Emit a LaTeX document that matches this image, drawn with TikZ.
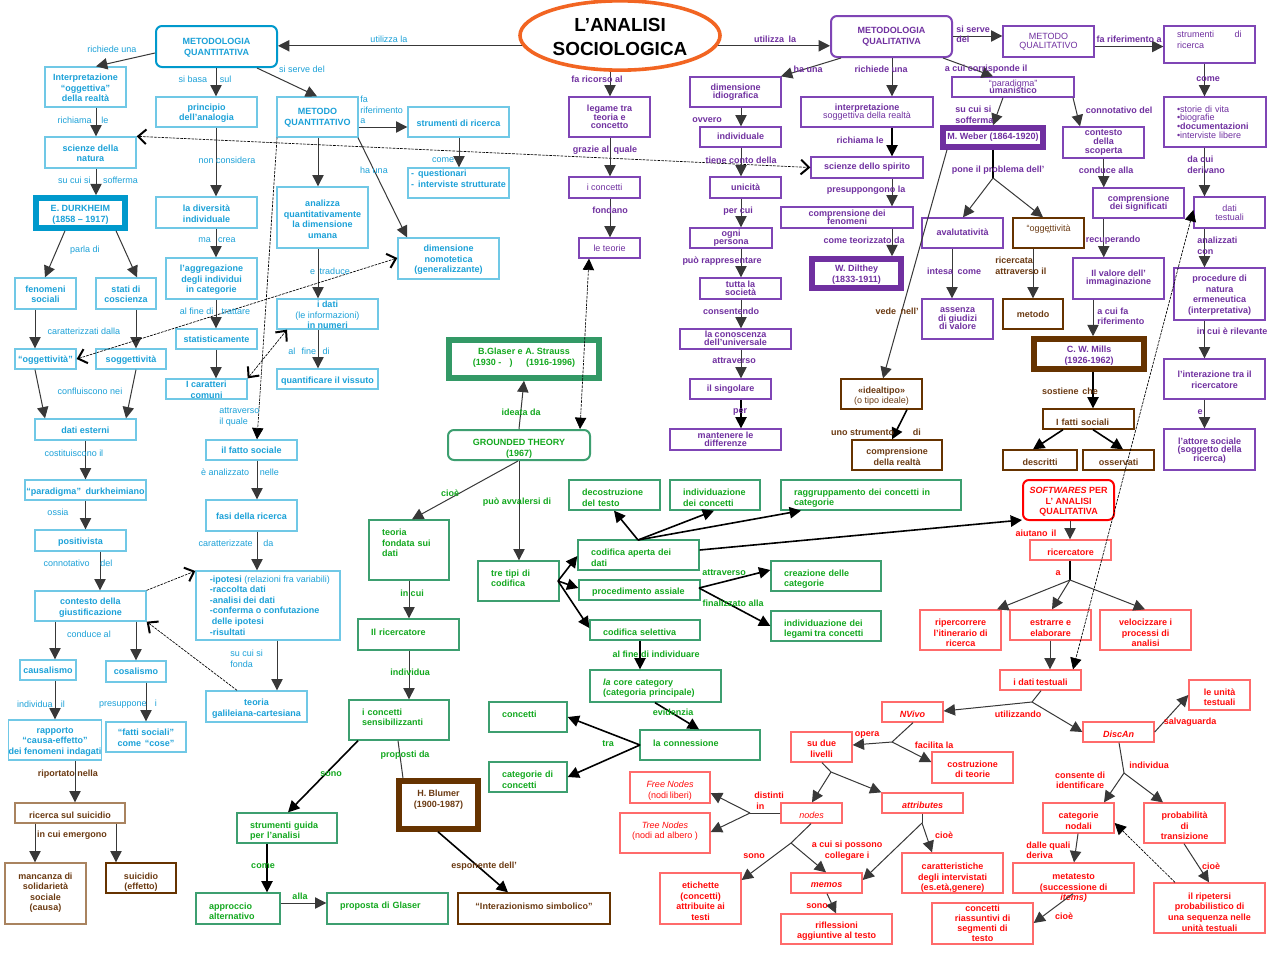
\documentclass[tikz,border=0pt]{standalone}
\usepackage{fontspec}
\setmainfont{Liberation Sans}
\usetikzlibrary{arrows.meta,shapes.geometric}
\definecolor{tB}{HTML}{1BA1D8}\definecolor{lB}{HTML}{70C8E6}\definecolor{dB}{HTML}{0099CC}
\definecolor{tG}{HTML}{12A81E}\definecolor{lG}{HTML}{3D9F70}\definecolor{dG}{HTML}{339966}
\definecolor{tP}{HTML}{7030A0}\definecolor{lP}{HTML}{7F45B5}
\definecolor{tN}{HTML}{6B3A12}\definecolor{lN}{HTML}{A9835F}\definecolor{dN}{HTML}{663300}
\definecolor{tR}{HTML}{FF0A0A}\definecolor{lR}{HTML}{FF6B6B}
\definecolor{lineC}{HTML}{383838}\definecolor{orangeT}{HTML}{F26522}
\newcounter{lkn}
\newcommand\fnt[1]{\fontsize{6.75}{#1}\selectfont\lineskiplimit=-10pt\relax}
\newcommand\bx[7]{\pgfmathsetmacro\bw{#4-#2}\pgfmathsetmacro\bh{#5-#3}\pgfmathsetmacro\bwl{(#4-#2-26)*0.75}%
 \node[bxs,#6,minimum width=\bw*0.75pt,minimum height=\bh*0.75pt] (#1) at ({(#2+#4)/2},{(#3+#5)/2}) {#7};}
\newcommand\lk[4]{\stepcounter{lkn}\node[lks,#1] (lk\arabic{lkn}) at (#2,#3) {#4};}
\newcommand\CS[5][ar]{\draw[#1] (#2.south -| #3,0) -- (#4.north -| #5,0);}
\newcommand\sh[2]{\raisebox{\dimexpr #1pt*3/4\relax}[\height][\depth]{#2}}
\newcommand\shc[2]{\sh{#1}{\vbox{\let\\\cr\halign{\hfil##\hfil\cr#2\crcr}}}}
\newcommand\shl[2]{\sh{#1}{\vbox{\let\\\cr\halign{##\hfil\cr#2\crcr}}}}
\newcommand\gp[1]{\hspace{#1em}}
\tikzset{
 bxs/.style={draw,inner sep=0pt,align=center,font=\fnt{7.9}\bfseries,line width=1pt},
 lks/.style={inner sep=0pt,align=center,font=\fnt{7.9}},
 tight/.style={font=\fnt{6.1}\bfseries},
 reg/.style={font=\fnt{7.9}},
 regt/.style={font=\fnt{6.1}},
 lt/.style={align=left,text width=\bwl pt},
 cB/.style={draw=lB,text=tB},cG/.style={draw=lG,text=tG},cP/.style={draw=lP,text=tP},
 cN/.style={draw=lN,text=tN},cND/.style={draw=dN,text=tN},cR/.style={draw=lR,text=tR},
 thick5/.style={line width=4.2pt},
 rnd/.style={rounded corners=4.5pt,line width=1.5pt},
 lB1/.style={text=tB},
 lG1/.style={text=tG,font=\fnt{7.9}\bfseries},
 lP1/.style={text=tP,font=\fnt{7.9}\bfseries},
 lN1/.style={text=tN,font=\fnt{7.9}\bfseries},
 lR1/.style={text=tR,font=\fnt{7.9}\bfseries},
 lf/.style={anchor=west,align=left},
 ar/.style={draw=lineC,line width=0.75pt,-{Triangle[length=8.5pt,width=8.5pt]}},
 art/.style={draw=black,line width=1.2pt,-{Triangle[length=8.5pt,width=8.5pt]}},
 ln/.style={draw=lineC,line width=0.75pt},
 lnt/.style={draw=black,line width=1.2pt},
 dsh/.style={draw=black,line width=0.5pt,dash pattern=on 2pt off 0.8pt},
 barb/.style={dsh,{Straight Barb[line width=1.5pt,length=6pt,width=11pt]}-{Straight Barb[line width=1.5pt,length=6pt,width=11pt]}},
 barbo/.style={dsh,-{Straight Barb[line width=1.5pt,length=6pt,width=11pt]}},
 dtr/.style={dsh,{Triangle[length=8.5pt,width=8.5pt]}-{Triangle[length=8.5pt,width=8.5pt]}},
 dto/.style={dsh,-{Triangle[length=8.5pt,width=8.5pt]}},
}
\begin{document}
\begin{tikzpicture}[x=0.75pt,y=-0.75pt]
\useasboundingbox (0,0) rectangle (1280,960);
\fill[white] (0,0) rectangle (1280,960);
% title
\node[ellipse,draw=orangeT,line width=2.7pt,inner sep=0pt,minimum width=150pt,minimum height=52pt,align=center,font=\fontsize{14.2}{18}\selectfont\bfseries] (title) at (620,35.5) {\shc{-1}{L’ANALISI\\SOCIOLOGICA}};
% blue boxes
\bx{mq}{156}{26}{277}{67}{cB,rnd,draw=dB}{\shc{-1}{METODOLOGIA\\QUANTITATIVA}}
\bx{interp}{45}{67}{126}{107}{cB}{\shc{-1}{Interpretazione\\“oggettiva”\\della realtà}}
\bx{prin}{156}{97}{257}{127}{cB}{\shc{-1}{principio\\dell’analogia}}
\bx{metq}{277}{97}{358}{137}{cB}{\shc{-1}{METODO\\QUANTITATIVO}}
\bx{scnat}{45}{137}{136}{168}{cB}{\shc{-1}{scienze della\\natura}}
\bx{durk}{36}{198}{125}{228}{cB,thick5,draw=dB}{\shc{-2}{E. DURKHEIM\\(1858 – 1917)}}
\bx{diver}{156}{197}{257}{228}{cB}{\shc{-1}{la diversità\\individuale}}
\bx{anal}{277}{187}{368}{248}{cB}{\shc{-2}{analizza\\quantitativamente\\la dimensione\\umana}}
\bx{aggr}{166}{258}{257}{299}{cB}{\shc{-1.5}{l’aggregazione\\degli individui\\in categorie}}
\bx{fen}{15}{278}{76}{309}{cB}{\shc{-1}{fenomeni\\sociali}}
\bx{stati}{96}{278}{156}{309}{cB}{\shc{-1}{stati di\\coscienza}}
\bx{idati}{277}{299}{378}{329}{cB}{\shc{-1}{i dati\\{\mdseries (le informazioni)}\\in numeri}}
\bx{strq}{408}{107}{509}{137}{cB}{\sh{-1}{strumenti di ricerca}}
\bx{quest}{408}{168}{509}{198}{cB,align=left}{\shl{4}{- \,questionari\\- \,interviste strutturate}}
\bx{dimn}{398}{238}{499}{279}{cB}{\shc{-1.5}{dimensione\\nomotetica\\(generalizzante)}}
\bx{stat}{176}{329}{257}{349}{cB}{statisticamente}
\bx{ogg}{15}{349}{76}{369}{cB}{\sh{-1}{“oggettività”}}
\bx{sogg}{96}{349}{166}{369}{cB}{\sh{-1}{soggettività}}
\bx{car}{166}{379}{247}{399}{cB}{\shc{-1}{I caratteri\\comuni}}
\bx{quant}{277}{369}{378}{389}{cB}{\sh{-2}{quantificare il vissuto}}
\bx{dest}{35}{419}{136}{440}{cB}{\sh{-1}{dati esterni}}
\bx{fatto}{206}{440}{297}{460}{cB}{il fatto sociale}
\bx{parad}{25}{480}{146}{500}{cB}{\sh{-2}{“paradigma”\gp{.5}durkheimiano}}
\bx{fasi}{206}{500}{297}{531}{cB}{\sh{-1}{fasi della ricerca}}
\bx{posit}{35}{530}{126}{551}{cB}{\sh{-2}{positivista}}
\bx{cgiu}{35}{591}{146}{621}{cB}{\shc{-1.5}{contesto della\\giustificazione}}
\bx{ipo}{196}{571}{340}{640}{cB,align=left}{\hspace*{3pt}-ipotesi {\mdseries (relazioni fra variabili)}\\\hspace*{3pt}-raccolta dati\\\hspace*{3pt}-analisi dei dati\\\hspace*{3pt}-conferma o confutazione\\\hspace*{4.5pt}delle ipotesi\\\hspace*{3pt}-risultati}
\bx{caus}{20}{660}{76}{680}{cB}{causalismo}
\bx{cosa}{106}{661}{166}{682}{cB}{cosalismo}
\bx{gal}{206}{691}{307}{722}{cB}{\shc{-2}{teoria\\galileiana-cartesiana}}
\bx{rapp}{10}{720}{100}{760}{cB}{\shc{-2}{rapporto\\“causa-effetto”\\dei fenomeni indagati}}
\bx{fcose}{106}{722}{186}{752}{cB}{\shc{-1}{“fatti sociali”\\come\gp{.4}“cose”}}
% brown boxes
\bx{rsui}{15}{803}{125}{823}{cN}{\sh{-2}{ricerca sul suicidio}}
\bx{manc}{5}{863}{86}{924}{cN}{\shc{1}{mancanza di\\solidarietà\\sociale\\(causa)}}
\bx{suic}{106}{863}{176}{893}{cND}{\shc{-4}{suicidio\\(effetto)}}
\bx{blum}{399}{781}{478}{829}{cND,thick5}{\shc{5.5}{H. Blumer\\(1900-1987)}}
\bx{inter}{458}{893}{610}{924}{cND}{\sh{2.5}{“Interazionismo simbolico”}}
% green boxes
\bx{tfond}{369}{520}{449}{580}{cG,lt}{\shl{7}{teoria\\fondata sui\\dati}}
\bx{gric}{358}{619}{459}{650}{cG,lt}{\sh{2.5}{Il ricercatore}}
\bx{csens}{349}{700}{449}{740}{cG,lt}{\shl{2.5}{i concetti\\sensibilizzanti}}
\bx{sguida}{237}{813}{337}{843}{cG,lt}{\shl{-3}{strumenti guida\\per l’analisi}}
\bx{appr}{196}{893}{280}{924}{cG,lt}{\shl{-3}{approccio\\alternativo}}
\bx{pgl}{327}{893}{448}{924}{cG,lt}{\sh{2.5}{proposta di Glaser}}
\bx{gs}{449}{340}{599}{378}{cG,thick5,draw=dG}{\shc{1.5}{B.Glaser e A. Strauss\\(1930 -\gp{.9})\gp{1.5}(1916-1996)}}
\bx{gt}{448}{430}{590}{460}{cG,rnd,draw=lG}{\shc{-4}{GROUNDED THEORY\\(1967)}}
\bx{tre}{478}{561}{559}{601}{cG,lt}{\shl{2.5}{tre tipi di\\codifica}}
\bx{caperta}{578}{540}{699}{570}{cG,lt}{\shl{-3}{codifica aperta dei\\dati}}
\bx{pass}{579}{580}{700}{600}{cG,lt}{\sh{-2}{procedimento assiale}}
\bx{csel}{590}{620}{700}{640}{cG,lt}{\sh{-2}{codifica selettiva}}
\bx{deco}{569}{480}{660}{510}{cG,lt}{\shl{-3}{decostruzione\\del testo}}
\bx{icon}{670}{480}{760}{510}{cG,lt}{\shl{-3}{individuazione\\dei concetti}}
\bx{ragg}{781}{480}{961}{510}{cG,lt}{\shl{-3}{raggruppamento dei concetti in\\categorie}}
\bx{crea}{771}{561}{881}{591}{cG,lt}{\shl{-3}{creazione delle\\categorie}}
\bx{ileg}{771}{611}{881}{641}{cG,lt}{\shl{-3}{individuazione dei\\legami\gp{.2}tra concetti}}
\bx{core}{590}{670}{721}{702}{cG,lt}{\shl{-2}{\textit{la} core category\\(categoria principale)}}
\bx{gcon}{489}{702}{567}{732}{cG,lt}{\sh{3}{concetti}}
\bx{conn}{640}{730}{760}{760}{cG,lt}{\sh{2}{la connessione}}
\bx{gcat}{489}{762}{567}{792}{cG,lt}{\shl{-3}{categorie di\\concetti}}
% purple boxes
\bx{mql}{831}{16}{952}{57}{cP,rnd,draw=lP}{METODOLOGIA\\QUALITATIVA}
\bx{leg}{569}{97}{650}{137}{cP,font=\fnt{6.4}\bfseries}{legame tra\\teoria e\\concetto}
\bx{pcon}{569}{177}{640}{198}{cP,reg}{i concetti}
\bx{pteo}{579}{238}{640}{258}{cP,reg}{le teorie}
\bx{didio}{690}{77}{781}{107}{cP,tight}{dimensione\\idiografica}
\bx{indiv}{700}{127}{781}{147}{cP}{\sh{1}{individuale}}
\bx{unic}{710}{177}{781}{198}{cP}{unicità}
\bx{ogni}{690}{228}{772}{248}{cP,tight}{ogni\\persona}
\bx{tutta}{700}{278}{781}{299}{cP,tight}{tutta la\\società}
\bx{cono}{680}{329}{791}{349}{cP,tight}{\shc{1}{la conoscenza\\dell’universale}}
\bx{sing}{690}{379}{771}{399}{cP}{il singolare}
\bx{mant}{670}{429}{781}{450}{cP,tight}{mantenere le\\differenze}
\bx{pint}{801}{97}{933}{127}{cP,tight}{interpretazione\\{\mdseries soggettiva della realtà}}
\bx{scsp}{811}{157}{923}{178}{cP}{scienze dello spirito}
\bx{cfen}{781}{207}{913}{228}{cP,tight}{comprensione dei\\fenomeni}
\bx{dilt}{812}{259}{901}{288}{cP,thick5,draw=tP}{\shc{-1}{W. Dilthey\\(1833-1911)}}
\bx{metql}{1003}{26}{1094}{57}{cP,font=\fnt{6.5}}{METODO\\QUALITATIVO}
\bx{strql}{1164}{26}{1255}{63}{cP,reg,lt}{\shl{4.5}{strumenti\gp{2.3}di\\ricerca}}
\bx{pum}{952}{77}{1074}{97}{cP,font=\fnt{5.3}}{“paradigma”\\\textbf{umanistico}}
\bx{web}{943}{128}{1043}{147}{cP,thick5,draw=tP}{M. Weber (1864-1920)}
\bx{cscop}{1063}{127}{1144}{158}{cP,font=\fnt{7}\bfseries}{contesto\\della\\scoperta}
\bx{stor}{1164}{97}{1266}{147}{cP,font=\fnt{6.4},lt}{\textbullet storie di vita\\\textbullet biografie\\\textbullet\textbf{documentazioni}\\\textbullet interviste libere}
\bx{csig}{1093}{188}{1184}{218}{cP,tight}{comprensione\\dei significati}
\bx{dtes}{1194}{197}{1265}{228}{cP,font=\fnt{6.7}}{dati\\testuali}
\bx{aval}{922}{218}{1003}{248}{cP}{\sh{1}{avalutatività}}
\bx{pogg}{1013}{218}{1084}{248}{cND,font=\fnt{4.5}}{\shc{2}{“oggettività\\”}}
\bx{ass}{922}{299}{993}{339}{cP,font=\fnt{6.4}\bfseries}{assenza\\di giudizi\\di valore}
\bx{pmet}{1003}{299}{1063}{329}{cND}{metodo}
\bx{val}{1073}{258}{1164}{299}{cP,tight}{Il valore dell’\\immaginazione}
\bx{proc}{1174}{268}{1265}{320}{cP}{\shc{-1}{procedure di\\natura\\ermeneutica\\(interpretativa)}}
\bx{mills}{1034}{339}{1144}{369}{cP,thick5,draw=dN}{\shc{-1.5}{C. W. Mills\\(1926-1962)}}
\bx{intr}{1164}{359}{1265}{399}{cP}{\shc{-1}{l’interazione tra il\\ricercatore}}
\bx{att}{1164}{429}{1255}{470}{cP,font=\fnt{6.3}\bfseries}{\shc{-1}{l’attore sociale\\(soggetto della\\ricerca)}}
\bx{ideal}{841}{379}{922}{409}{cND}{\shc{-2}{«idealtipo»\\{\mdseries (o tipo ideale)}}}
\bx{creal}{852}{440}{942}{470}{cND}{\shc{-2}{comprensione\\della realtà}}
\bx{pfat}{1043}{409}{1134}{429}{cND,lt}{\sh{-3}{I fatti sociali}}
\bx{desc}{1003}{450}{1077}{470}{cND}{\sh{-2}{descritti}}
\bx{oss}{1083}{450}{1154}{470}{cND}{\sh{-2}{osservati}}
% red boxes
\bx{soft}{1023}{480}{1114}{520}{cR,rnd,draw=red}{\shc{-2}{\textit{SOFTWARES} PER\\L’ ANALISI\\QUALITATIVA}}
\bx{rric}{1030}{540}{1111}{560}{cR}{\sh{-2}{ricercatore}}
\bx{rip}{920}{610}{1001}{650}{cR}{\shc{-3}{ripercorrere\\l’itinerario di\\ricerca}}
\bx{estr}{1010}{610}{1091}{640}{cR}{\shc{-3}{estrarre e\\elaborare}}
\bx{velo}{1100}{610}{1191}{650}{cR}{\shc{-3}{velocizzare i\\processi di\\analisi}}
\bx{rdat}{1000}{670}{1081}{690}{cR}{\sh{-2}{i dati\gp{.2}testuali}}
\bx{unita}{1189}{680}{1250}{710}{cR}{\shc{-2}{le unità\\testuali}}
\bx{nviv}{882}{702}{943}{722}{cR}{\sh{-2}{\textit{NVivo}}}
\bx{disc}{1083}{722}{1154}{742}{cR}{\sh{-2}{\textit{DiscAn}}}
\bx{sudue}{791}{732}{852}{762}{cR}{\shc{-2}{su due\\livelli}}
\bx{cost}{932}{752}{1013}{783}{cR}{\shc{-2}{costruzione\\di teorie}}
\bx{attr}{882}{793}{963}{813}{cR}{\sh{-2}{\textit{attributes}}}
\bx{cnod}{1043}{803}{1114}{833}{cR}{\shc{-3}{categorie\\nodali}}
\bx{prob}{1144}{803}{1225}{843}{cR}{\shc{-3}{probabilità\\di\\transizione}}
\bx{cara}{902}{853}{1003}{893}{cR}{\shc{-5}{caratteristiche\\degli intervistati\\(es.età,genere)}}
\bx{meta}{1013}{863}{1134}{893}{cR}{\shc{-10}{metatesto\\(successione di\\\textit{items)}}}
\bx{ripe}{1154}{883}{1265}{933}{cR}{\shc{-4}{il ripetersi\\probabilistico di\\una\gp{.3}sequenza nelle\\unità testuali}}
\bx{criass}{932}{903}{1033}{944}{cR,font=\fnt{7.6}\bfseries}{concetti\\riassuntivi di\\segmenti\gp{.3}di\\testo}
\bx{rifl}{781}{914}{892}{944}{cR}{\shc{-2}{riflessioni\\aggiuntive al testo}}
\bx{memo}{791}{873}{862}{893}{cR}{\sh{-2}{\textit{memos}}}
\bx{nodes}{781}{803}{842}{823}{cR,reg}{\sh{-2}{\textit{nodes}}}
\bx{free}{630}{772}{710}{803}{cR,reg}{\shc{-3}{\textit{Free Nodes}\\(nodi\gp{.2}liberi)}}
\bx{tree}{620}{813}{710}{853}{cR,reg}{\shc{2}{\textit{Tree Nodes}\\(nodi ad albero )}}
\bx{etic}{660}{873}{741}{924}{cR}{\shc{-3}{etichette\\(concetti)\\attribuite ai\\testi}}
% junctions
\coordinate (jTre) at (558,581);
\coordinate (jApe) at (638,540);
\coordinate (jAss) at (699,588);
\coordinate (jCon) at (640,745);
\coordinate (jWeb) at (993,178);
\coordinate (jRic) at (1070,580);
\coordinate (jDat) at (1032,702);
\coordinate (jNvi) at (892,742);
\coordinate (jDis) at (1124,773);
\coordinate (jDue) at (831,772);
\coordinate (jNo1) at (750,813);
\coordinate (jNo2) at (791,843);
\coordinate (jAtt) at (922,823);
% connectors - blue
\draw[ar] (title.186.7) -- (mq.east |- title.186.7);
\draw[ar] (mq.west |- 0,53) -- (interp.north -| 96,0);
\CS{mq}{216}{prin}{216}
\CS{mq}{257}{metq}{317}
\CS{interp}{96}{scnat}{96}
\CS{scnat}{96}{durk}{96}
\draw[ar] (metq.east |- 0,127) -- (strq.west |- 0,127);
\CS{strq}{459}{quest}{459}
\CS{metq}{318}{anal}{318}
\CS{metq}{358}{dimn}{407}
\CS{anal}{318}{idati}{318}
\CS{idati}{318}{quant}{318}
\CS{prin}{216}{diver}{216}
\CS{diver}{216}{aggr}{216}
\CS{aggr}{216}{stat}{216}
\CS{stat}{216}{car}{216}
\CS{durk}{65}{fen}{45}
\CS{durk}{116}{stati}{137}
\CS{fen}{35}{ogg}{35}
\CS{stati}{136}{sogg}{136}
\CS{ogg}{35}{dest}{45}
\CS{sogg}{136}{dest}{126}
\CS{dest}{85.5}{parad}{85.5}
\CS{parad}{85.5}{posit}{85.5}
\CS{posit}{100}{cgiu}{100}
\CS{cgiu}{55}{caus}{55}
\CS{cgiu}{136}{cosa}{136}
\CS{caus}{55}{rapp}{55}
\CS{cosa}{146}{fcose}{146}
\CS{rapp}{75}{rsui}{75}
\CS{rsui}{35}{manc}{35}
\CS{rsui}{116}{suic}{116}
\CS[dto]{metq}{277}{fatto}{257}
\CS{fatto}{257}{fasi}{257}
\CS{fasi}{257}{ipo}{257}
\CS{ipo}{277}{gal}{277}
\draw[barbo] (gal.north -| 237,0) -- (cgiu.south east);
\draw[barbo] (cgiu.north east) -- (ipo.west |- 0,571);
\draw[barb] (car.north east) -- (idati.south -| 287,0);
\draw[barb] (ogg.east) -- (dimn.west |- 0,258);
\draw[barb] (scnat.north east) -- (scsp.west);
% connectors - green and central
\draw[ar] (title.-6.7) -- (mql.west |- title.-6.7);
\CS{title}{610}{leg}{610}
\CS{leg}{610}{pcon}{610}
\CS{pcon}{610}{pteo}{610}
\draw[dtr] (pteo.south -| 589,0) -- (gt.north -| 580,0);
\draw[ar] (gt.north -| 519,0) -- (gs.south -| 524,0);
\CS{gt}{518}{tfond}{412}
\CS{gt}{519}{tre}{519}
\CS{tfond}{409}{gric}{409}
\CS{gric}{409}{csens}{409}
\draw[ln] (csens.south -| 398,0) -- (blum.north -| 403,0);
\CS[art]{csens}{358}{sguida}{288}
\CS[art]{sguida}{267}{appr}{267}
\draw[ar] (appr.east |- 0,903) -- (pgl.west |- 0,903);
\CS[art]{blum}{438}{inter}{508}
\draw[lnt] (tre.east |- jTre) -- (jTre);
\draw[art] (jTre) -- (caperta.west |- 0,556);
\draw[art] (jTre) -- (pass.west |- 0,588);
\draw[art] (jTre) -- (csel.west |- 0,628);
\draw[art] (jApe) -- (deco.south -| 614,0);
\draw[art] (jApe) -- (icon.south -| 714,0);
\draw[art] (jApe) -- (ragg.south -| 801,0);
\draw[art] (caperta.east |- 0,550) -- (soft.west |- 0,520);
\draw[art] (jAss) -- (crea.west |- 0,570);
\draw[art] (jAss) -- (ileg.west |- 0,626);
\CS[art]{csel}{640}{core}{640}
\CS[art]{core}{655}{conn}{699}
\draw[art] (jCon) -- (gcon.east |- 0,717);
\draw[art] (jCon) -- (gcat.east |- 0,777);
% connectors - purple
\CS{mql}{841}{didio}{781}
\CS{mql}{892}{pint}{892}
\draw[ar] (mql.east |- 0,36) -- (metql.west |- 0,36);
\draw[ar] (metql.east |- 0,46.5) -- (strql.west |- 0,46.5);
\CS{strql}{1204.5}{stor}{1204.5}
\CS{stor}{1204.5}{dtes}{1204.5}
\CS{dtes}{1204.5}{proc}{1204.5}
\CS{proc}{1204.5}{intr}{1204.5}
\CS{intr}{1204.5}{att}{1204.5}
\CS{mql}{943}{pum}{993}
\CS{pum}{1003}{web}{993}
\CS{pum}{1073}{cscop}{1080}
\CS{cscop}{1103.7}{csig}{1103.7}
\CS{csig}{1103.7}{val}{1103.7}
\CS{val}{1093}{mills}{1093}
\CS[art]{mills}{1093}{pfat}{1093}
\CS[art]{pfat}{1063}{desc}{1033}
\CS[art]{pfat}{1093}{oss}{1123}
\draw[lnt] (web.south -| jWeb) -- (jWeb);
\draw[ar] (jWeb) -- (aval.north -| 963,0);
\draw[ar] (jWeb) -- (pogg.north -| 1043,0);
\CS{aval}{952}{ass}{952}
\CS{pogg}{1033}{pmet}{1033}
\CS{web}{947}{ideal}{883}
\CS[art]{ideal}{907}{creal}{892}
\CS{didio}{741}{indiv}{741}
\CS{indiv}{741}{unic}{741}
\CS{unic}{741}{ogni}{741}
\CS{ogni}{741}{tutta}{741}
\CS{tutta}{741}{cono}{741}
\CS{cono}{741}{sing}{741}
\CS[art]{sing}{741}{mant}{741}
\CS[art]{pint}{892}{scsp}{892}
\CS{scsp}{892}{cfen}{892}
\CS{cfen}{892}{dilt}{892}
% connectors - red
\CS{soft}{1070}{rric}{1070}
\draw[lnt] (rric.south -| jRic) -- (jRic);
\draw[ar] (jRic) -- (rip.north -| 997,0);
\draw[ar] (jRic) -- (estr.north -| 1052,0);
\draw[ar] (jRic) -- (velo.north -| 1145,0);
\CS{estr}{1050}{rdat}{1050}
\draw[dtr] (dtes.west |- 0,210) -- (rdat.north -| 1073,0);
\draw[ln] (rdat.south -| 1041,0) -- (jDat);
\draw[ar] (jDat) -- (nviv.east |- 0,711);
\draw[ar] (jDat) -- (disc.west |- 0,732);
\draw[ln] (nviv.south -| 913,0) -- (jNvi);
\draw[ar] (jNvi) -- (sudue.east |- 0,745);
\draw[ar] (jNvi) -- (cost.west |- 0,762);
\draw[ar] (disc.east |- 0,732) -- (unita.west |- 0,695);
\draw[ln] (disc.south -| 1119,0) -- (jDis);
\draw[ar] (jDis) -- (cnod.north -| 1104,0);
\draw[ar] (jDis) -- (prob.north -| 1163,0);
\CS{cnod}{1078}{meta}{1074}
\draw[ar] (meta.south -| 1073,0) -- (criass.east |- 0,923);
\CS{prob}{1184}{ripe}{1209}
\draw[dto] (ripe.north -| 1175,0) -- (cnod.east |- 0,823);
\draw[ln] (sudue.south -| 822,0) -- (jDue);
\draw[ar] (jDue) -- (nodes.north -| 812,0);
\draw[ar] (jDue) -- (attr.north west);
\draw[ln] (nodes.west |- 0,813) -- (jNo1);
\draw[ar] (jNo1) -- (free.east |- 0,793);
\draw[ar] (jNo1) -- (tree.east |- 0,832);
\draw[ln] (nodes.south -| 811,0) -- (jNo2);
\draw[ar] (jNo2) -- (etic.east |- 0,880);
\draw[ar] (jNo2) -- (memo.north -| 826,0);
\CS{memo}{827}{rifl}{836}
\draw[ln] (attr.south -| jAtt) -- (jAtt);
\draw[ar] (jAtt) -- (memo.east |- 0,880);
\draw[ar] (jAtt) -- (cara.north -| 932,0);
% labels blue
\lk{lB1}{389}{39}{utilizza la}
\lk{lB1}{112}{49}{richiede una}
\lk{lB1}{205}{79}{si basa\gp{1.4}sul}
\lk{lB1}{302}{69}{si serve del}
\lk{lB1}{83}{120}{richiama\gp{1.1}le}
\lk{lB1}{227}{160}{non considera}
\lk{lB1}{98}{180}{su cui si\gp{1.4}sofferma}
\lk{lB1,lf}{360}{110}{fa\\riferimento\\a}
\lk{lB1}{374}{170}{ha una}
\lk{lB1}{217}{240}{ma\gp{.8}crea}
\lk{lB1}{85}{250}{parla di}
\lk{lB1}{330}{271}{e\gp{.5}traduce}
\lk{lB1}{215}{311}{al fine di\gp{.9}trattare}
\lk{lB1}{443}{160}{come}
\lk{lB1}{84}{331}{caratterizzati dalla}
\lk{lB1}{309}{351}{al\gp{.7}fine\gp{.7}di}
\lk{lB1}{90}{391}{confluiscono nei}
\lk{lB1,lf}{219}{417}{attraverso\\il quale}
\lk{lB1}{74}{453}{costituiscono il}
\lk{lB1}{240}{472}{è analizzato\gp{1.2}nelle}
\lk{lB1}{58}{512}{ossia}
\lk{lB1}{236}{543}{caratterizzate\gp{1.2}da}
\lk{lB1}{78}{563}{connotativo\gp{1.2}del}
\lk{lB1}{89}{634}{conduce al}
\lk{lB1,lf}{230}{659}{su cui si\\fonda}
\lk{lB1}{41}{704}{individua\gp{.9}il}
\lk{lB1}{128}{704}{presuppone\gp{.9}i}
% labels brown/green
\lk{lN1}{68}{774}{riportato nella}
\lk{lN1}{72}{835}{in cui emergono}
\lk{lG1}{331}{774}{sono}
\lk{lG1}{405}{755}{proposti da}
\lk{lG1}{410}{672}{individua}
\lk{lG1}{412}{593}{in cui}
\lk{lG1}{263}{866}{come}
\lk{lG1}{300}{896}{alla}
\lk{lG1}{450}{493}{cioè}
\lk{lG1}{517}{502}{può avvalersi di}
\lk{lG1}{521}{412}{ideata da}
\lk{lG1}{724}{573}{attraverso}
\lk{lG1}{733}{603}{finalizzato alla}
\lk{lG1}{656}{654}{al fine di individuare}
\lk{lG1}{673}{712}{evidenzia}
\lk{lG1}{608}{744}{tra}
\lk{lN1}{484}{866}{esponente dell’}
% labels purple
\lk{lP1}{597}{79}{fa ricorso al}
\lk{lP1}{605}{150}{grazie al\gp{.5}quale}
\lk{lP1}{610}{210}{fondano}
\lk{lP1}{775}{39}{utilizza\gp{.5}la}
\lk{lP1}{808}{69}{ha una}
\lk{lP1}{707}{120}{ovvero}
\lk{lP1}{741}{160}{tiene conto della}
\lk{lP1}{738}{211}{per cui}
\lk{lP1}{722}{261}{può rappresentare}
\lk{lP1}{731}{311}{consentendo}
\lk{lP1}{734}{361}{attraverso}
\lk{lP1}{740}{412}{per}
\lk{lP1}{881}{69}{richiede una}
\lk{lP1}{860}{140}{richiama le}
\lk{lP1}{866}{190}{presuppongono la}
\lk{lP1}{864}{240}{come teorizzato da}
\lk{lP1,lf}{956}{34.5}{si serve\\del}
\lk{lP1}{1129}{39}{fa riferimento a}
\lk{lP1}{986}{69}{a cui corrisponde il}
\lk{lP1,lf}{955}{115}{su cui si\\sofferma}
\lk{lP1}{1119}{110}{connotativo del}
\lk{lP1}{1208}{79}{come}
\lk{lP1,lf}{1187}{165}{da cui\\derivano}
\lk{lP1}{1106}{170}{conduce alla}
\lk{lP1}{998}{170}{pone il problema dell’}
\lk{lP1}{1113}{240}{recuperando}
\lk{lP1}{954}{271}{intesa\gp{.5}come}
\lk{lN1,lf}{995}{266}{ricercata\\attraverso il}
\lk{lP1,lf}{1197}{246}{analizzati\\con}
\lk{lN1}{897}{311}{vede\gp{.5}nell’}
\lk{lP1,lf}{1097}{316.5}{a cui fa\\riferimento}
\lk{lP1}{1232}{331}{in cui è rilevante}
\lk{lP1}{1200}{412}{e}
\lk{lN1}{1070}{391}{sostiene\gp{.4}che}
\lk{lN1}{876}{432}{uno strumento\gp{2.1}di}
% labels red
\lk{lR1}{1036}{533}{aiutano\gp{.4}il}
\lk{lR1}{1058}{573}{a}
\lk{lR1}{867}{735}{opera}
\lk{lR1}{934}{745}{facilita la}
\lk{lR1}{1018}{714}{utilizzando}
\lk{lR1}{1190}{722}{salvaguarda}
\lk{lR1}{1149}{765}{individua}
\lk{lR1}{1080}{780.5}{consente di\\identificare}
\lk{lR1}{944}{835}{cioè}
\lk{lR1,lf}{1026}{850.5}{dalle quali\\deriva}
\lk{lR1}{1211}{866}{cioè}
\lk{lR1}{1064}{916}{cioè}
\lk{lR1}{847}{850.5}{a cui si possono\\collegare i}
\lk{lR1}{754}{856}{sono}
\lk{lR1,lf}{754}{800.5}{distinti\\\hspace*{1.5pt}in}
\lk{lR1}{817}{906}{sono}
\end{tikzpicture}
\end{document}
